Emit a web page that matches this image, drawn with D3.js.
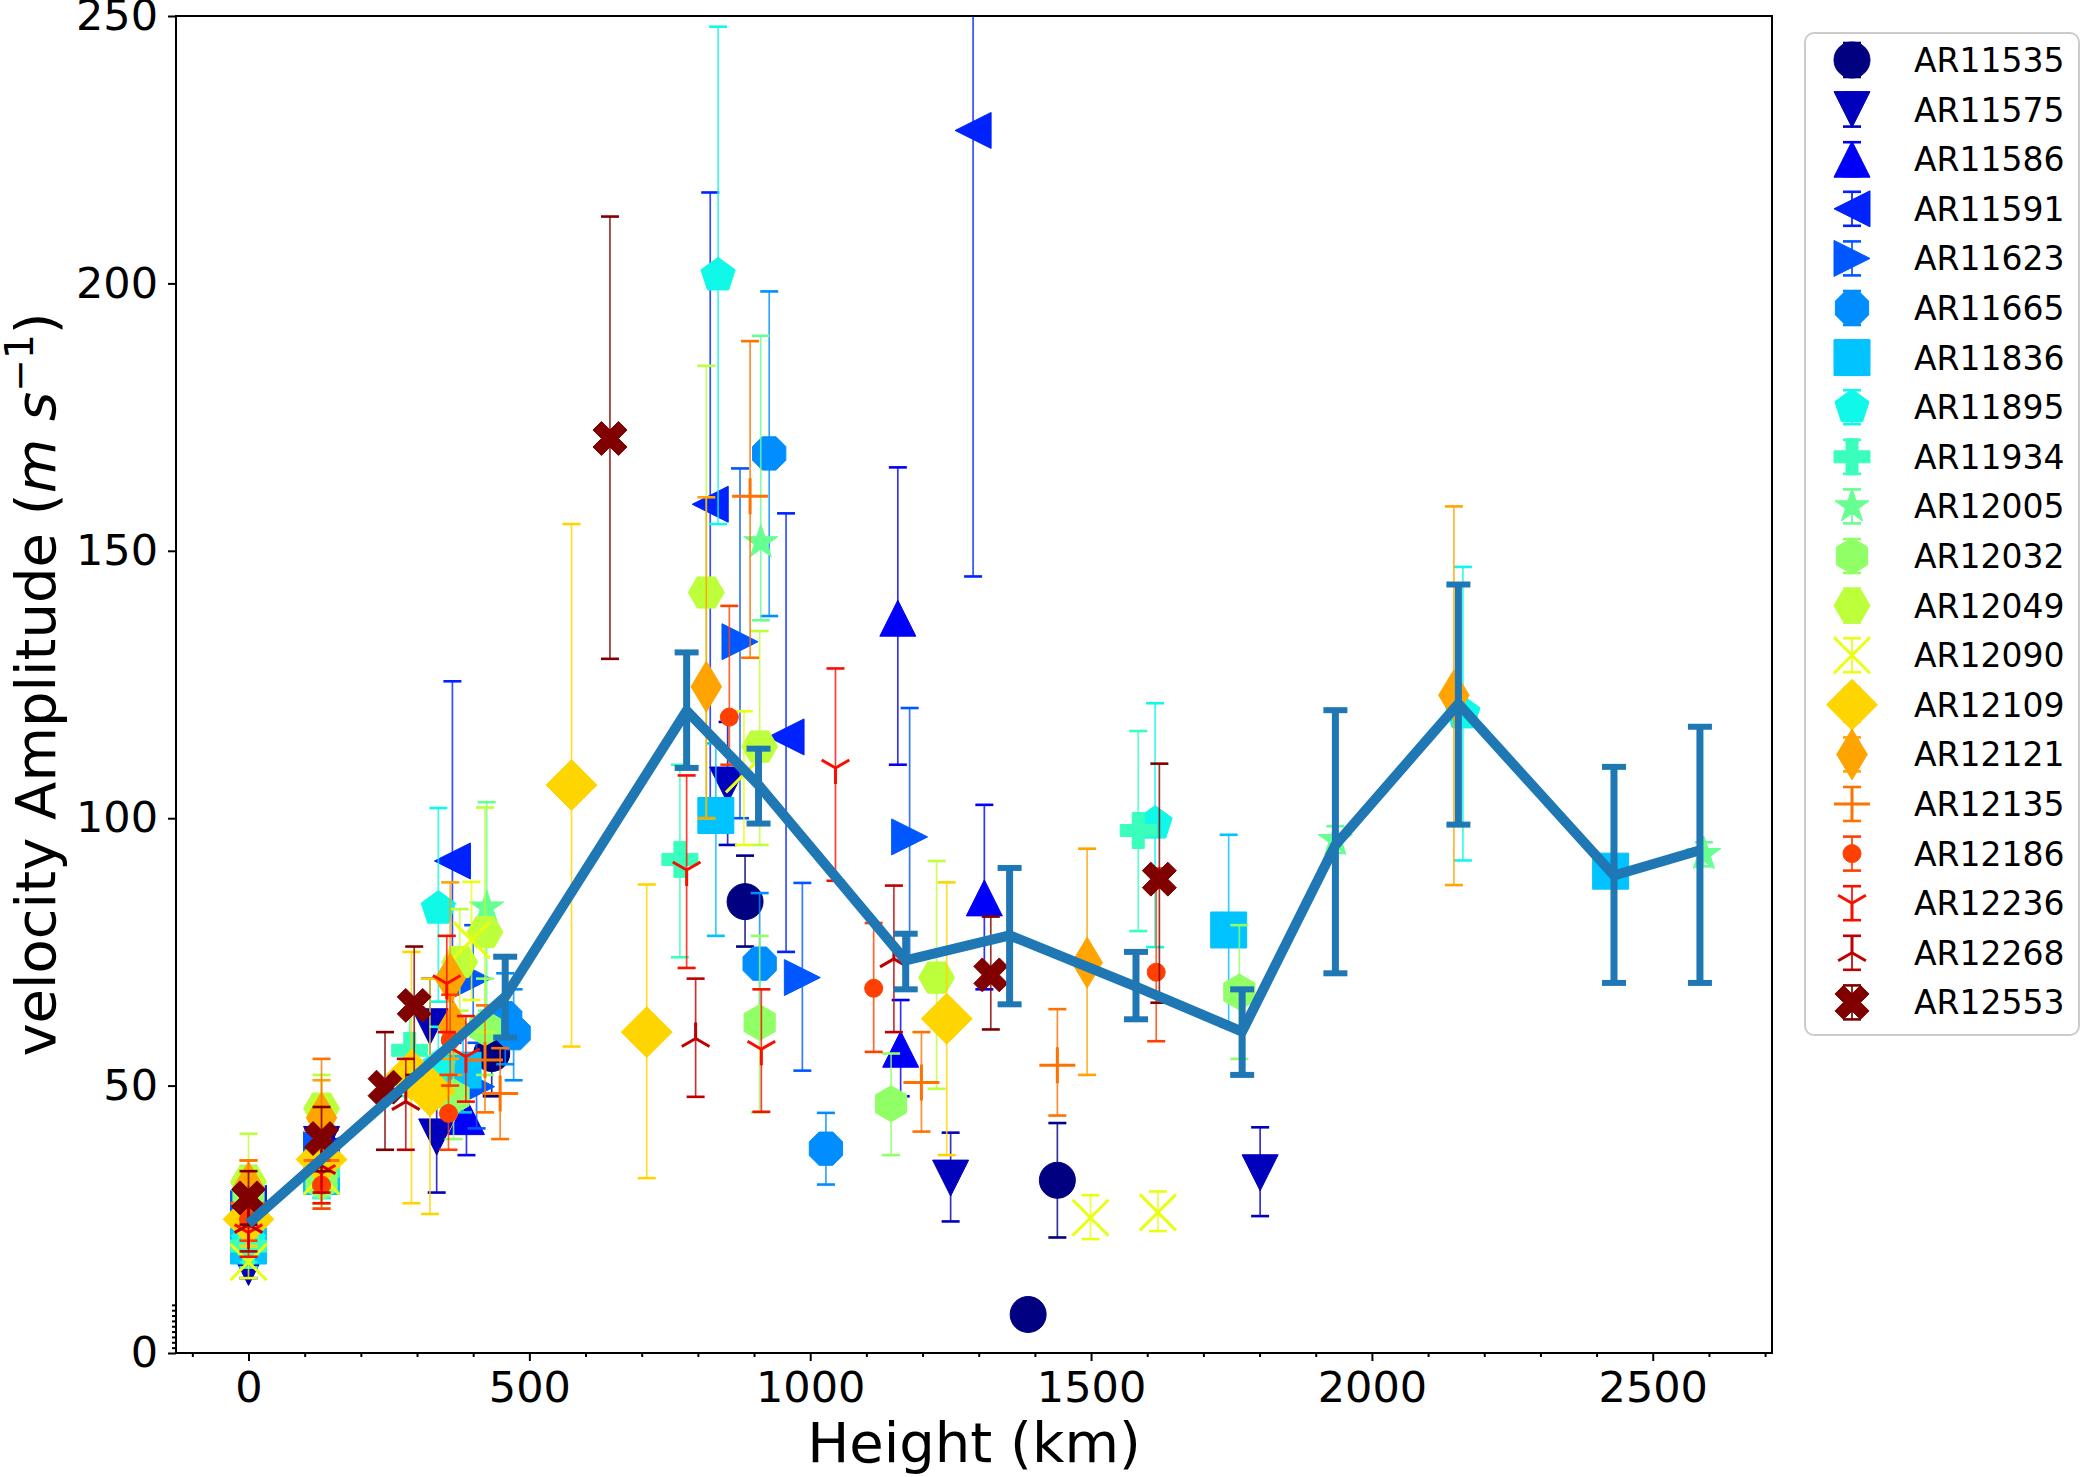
<!DOCTYPE html>
<html>
<head>
<meta charset="utf-8">
<script src="https://cdn.jsdelivr.net/npm/d3@7"></script>
<style>
  body { margin: 0; background: #fff; }
  text { font-family: "DejaVu Sans", sans-serif; }
</style>
</head>
<body>
<svg width="2082" height="1477"></svg>
<script>
// active regions, one matplotlib marker each
const regions = ["AR11535", "AR11575", "AR11586", "AR11591", "AR11623", "AR11665", "AR11836",
  "AR11895", "AR11934", "AR12005", "AR12032", "AR12049", "AR12090", "AR12109", "AR12121",
  "AR12135", "AR12186", "AR12236", "AR12268", "AR12553"];
const markers = ["o", "v", "^", "<", ">", "8", "s", "p", "P", "*", "h", "H", "x", "D", "d", "+", ".", "1", "2", "X"];

// rows: [height km, amplitude, lower, upper]
const ar11535 = [[0, 22, 16, 28], [130, 38, 31, 45], [433, 56, 48, 64], [884, 84.4, 76, 93], [1388, 7.2, 6, 8.5], [1440, 32.3, 21.6, 43]];
const ar11575 = [[0, 16, 14, 18], [130, 39, 34, 46], [323, 61, 52, 70], [335, 40.4, 30, 49], [853, 106.2, 95, 118], [1250, 32.7, 24.6, 41.2], [1801, 33.7, 25.6, 42.2]];
const ar11586 = [[0, 27, 22, 32], [130, 40, 35, 46], [388, 44.2, 37, 52], [1156, 137.4, 110, 165.6], [1161, 56.8, 48, 66], [1310, 85.1, 68, 102.5]];
const ar11591 = [[0, 28, 23, 33], [130, 37, 32, 43], [363, 92, 58, 125.6], [822, 158.7, 100, 217], [957, 115.2, 75, 157], [1290, 228.6, 145.2, 312]];
const ar11623 = [[0, 27, 22, 32], [130, 38, 33, 44], [400, 70, 60, 80], [406, 49.8, 42, 58], [875, 133, 100, 165.4], [986, 70.2, 52.8, 87.9], [1177, 96.5, 74.2, 120.6]];
const ar11665 = [[0, 22, 17, 27], [130, 34, 29, 40], [457, 62.6, 54, 71], [472, 59.8, 51, 68], [910, 72.8, 60, 86], [927, 168.2, 137.8, 198.5], [1028, 38.2, 31.5, 44.9]];
const ar11836 = [[0, 20, 16, 24], [130, 33, 28, 38], [382, 52.9, 45, 61], [832, 100.5, 78, 114], [1745, 79.1, 61, 96.9], [2425, 90.1, 88, 92]];
const ar11895 = [[0, 21, 17, 25], [130, 35, 30, 40], [338, 83.1, 65.7, 101.9], [338, 53.5, 46, 61], [836, 201.5, 155, 248], [1614, 99, 75.9, 121.5], [2162, 119.6, 92.1, 147]];
const ar11934 = [[0, 20, 16, 24], [130, 34, 29, 39], [287, 56.6, 48, 64], [768, 92.3, 74, 110], [1584, 97.7, 78.9, 116.3]];
const ar12005 = [[0, 24, 19, 29], [130, 36, 31, 41], [424, 83.3, 64, 103], [912, 151.6, 137, 190.2], [1935, 95.9, 93.5, 98.5], [2591, 93.3, 91, 95.5]];
const ar12032 = [[0, 30, 25, 35], [130, 32, 27, 37], [365, 47.9, 40, 56], [421, 60.8, 52, 70], [910, 61.8, 45, 78], [1144, 46.6, 37, 56], [1764, 67.5, 55, 80]];
const ar12049 = [[0, 32, 27, 41], [130, 45.7, 40, 52], [376, 73.1, 64, 83], [421, 78.7, 60, 102], [815, 142.2, 100, 184.6], [910, 113.4, 95, 135], [1225, 70.2, 49.4, 92]];
const ar12090 = [[0, 17, 14, 20], [130, 33, 28, 38], [397, 77.2, 66, 88.1], [882, 108.2, 95, 120], [1499, 25.3, 21.3, 29.5], [1619, 26.3, 22.8, 30.2]];
const ar12109 = [[0, 25, 20, 30], [130, 36.2, 31, 42], [290, 52, 28, 75], [323, 49, 26, 70], [575, 106.2, 57.3, 155], [709, 60, 32.7, 87.6], [1243, 62.5, 37, 88]];
const ar12121 = [[0, 31, 26, 36], [130, 44, 38, 51], [359, 70, 55, 88], [365, 61, 52, 70], [815, 124.6, 100, 160], [1493, 73, 52, 94.3], [2146, 123, 87.5, 158.3]];
const ar12135 = [[0, 28, 24, 36], [130, 36, 31, 55], [421, 54.8, 45, 65], [448, 48.5, 40, 57], [893, 160.2, 130, 189.2], [1198, 50.6, 41.4, 60], [1440, 53.8, 44.4, 64.3]];
const ar12186 = [[0, 25, 21, 29], [130, 31.4, 27, 36], [356, 44.8, 38, 52], [359, 58.5, 50, 67], [856, 118.9, 110, 139.7], [1113, 68.2, 56.3, 80.4], [1616, 71.2, 58.3, 90.6]];
const ar12236 = [[0, 22.5, 18, 27], [130, 33.6, 28, 39], [353, 69.1, 60, 78], [387, 55.4, 47, 63], [780, 90.3, 72, 108], [913, 56.8, 45.1, 68], [1045, 109.4, 88.3, 128]];
const ar12268 = [[0, 24, 19, 29], [130, 35, 30, 40], [280, 47, 38, 55], [796, 58.8, 47.9, 70], [1149, 73.7, 60, 87.4]];
const ar12553 = [[0, 29, 24, 34], [130, 40.1, 34, 46], [243, 49.7, 38, 60], [295, 65, 52, 76], [643.5, 171, 129.8, 212.5], [1321.5, 70.7, 60.5, 81.6], [1621.6, 88.6, 65.5, 110.2]];
const regionRows = [ar11535, ar11575, ar11586, ar11591, ar11623, ar11665, ar11836, ar11895, ar11934, ar12005,
  ar12032, ar12049, ar12090, ar12109, ar12121, ar12135, ar12186, ar12236, ar12268, ar12553];

// binned mean with its spread
const meanHeights = [0, 457, 780, 908, 1170, 1355, 1580, 1769, 1935, 2154, 2431, 2584];
const meanValues = [24.2, 66.6, 120.1, 106.2, 73.4, 78.1, 68.5, 60.1, 95.0, 121.4, 89.3, 94.0];
const meanLow = [null, 59, 109.4, 99, 68.0, 65.2, 62.4, 52, 71.0, 98.8, 69.2, 69.2];
const meanHigh = [null, 74.1, 131, 113, 78.4, 90.7, 75.0, 68, 120.2, 143.7, 109.6, 117.1];

const xTicks = [0, 500, 1000, 1500, 2000, 2500];
const xMinor = d3.range(-100, 2701, 100);
const yTicks = [0, 50, 100, 150, 200, 250];
const yMinor = d3.range(1, 10);

// matplotlib "jet"
function jet(t) {
  const seg = pts => {
    for (let i = 1; i < pts.length; i++) {
      if (t <= pts[i][0]) {
        const [x0, y0] = pts[i - 1], [x1, y1] = pts[i];
        return y0 + (y1 - y0) * (t - x0) / (x1 - x0);
      }
    }
    return pts[pts.length - 1][1];
  };
  const r = seg([[0, 0], [0.35, 0], [0.66, 1], [0.89, 1], [1, 0.5]]);
  const g = seg([[0, 0], [0.125, 0], [0.375, 1], [0.64, 1], [0.91, 0], [1, 0]]);
  const b = seg([[0, 0.5], [0.11, 1], [0.34, 1], [0.65, 0], [1, 0]]);
  return d3.rgb(r * 255, g * 255, b * 255).formatHex();
}

const R = 18;
function poly(n, rad, rot) {
  const pts = d3.range(n).map(k => {
    const a = rot + k * 2 * Math.PI / n;
    return [rad * Math.sin(a), -rad * Math.cos(a)];
  });
  return "M" + pts.map(p => p.join(",")).join("L") + "Z";
}
function plusPts(rot) {
  const u = R / 3;
  const raw = [[-1, -3], [1, -3], [1, -1], [3, -1], [3, 1], [1, 1], [1, 3], [-1, 3], [-1, 1], [-3, 1], [-3, -1], [-1, -1]];
  const c = Math.cos(rot), s = Math.sin(rot);
  return "M" + raw.map(([a, b]) => [(a * c - b * s) * u, (a * s + b * c) * u].join(",")).join("L") + "Z";
}
function markerPath(m) {
  const q = R * Math.SQRT2;
  switch (m) {
    case "o": return `M${R},0A${R},${R} 0 1,1 ${-R},0A${R},${R} 0 1,1 ${R},0Z`;
    case ".": return `M9,0A9,9 0 1,1 -9,0A9,9 0 1,1 9,0Z`;
    case "v": return `M0,${R}L${-R},${-R}L${R},${-R}Z`;
    case "^": return `M0,${-R}L${-R},${R}L${R},${R}Z`;
    case "<": return `M${-R},0L${R},${-R}L${R},${R}Z`;
    case ">": return `M${R},0L${-R},${-R}L${-R},${R}Z`;
    case "8": return poly(8, R, Math.PI / 8);
    case "s": return `M${-R},${-R}H${R}V${R}H${-R}Z`;
    case "p": return poly(5, R, 0);
    case "h": return poly(6, R, 0);
    case "H": return poly(6, R, Math.PI / 6);
    case "*": {
      const pts = d3.range(10).map(k => {
        const a = k * Math.PI / 5, rr = k % 2 ? R * 0.381966 : R;
        return [rr * Math.sin(a), -rr * Math.cos(a)];
      });
      return "M" + pts.map(p => p.join(",")).join("L") + "Z";
    }
    case "P": return plusPts(0);
    case "X": return plusPts(Math.PI / 4);
    case "D": return `M0,${-q}L${q},0L0,${q}L${-q},0Z`;
    case "d": return `M0,${-q}L${q * 0.6},0L0,${q}L${-q * 0.6},0Z`;
    case "x": return `M${-R},${-R}L${R},${R}M${-R},${R}L${R},${-R}`;
    case "+": return `M${-R},0H${R}M0,${-R}V${R}`;
    case "1": { const t = 16; return `M0,0V${t}M0,0L${-0.866 * t},${-0.5 * t}M0,0L${0.866 * t},${-0.5 * t}`; }
    case "2": { const t = 16; return `M0,0V${-t}M0,0L${-0.866 * t},${0.5 * t}M0,0L${0.866 * t},${0.5 * t}`; }
  }
}
const unfilled = new Set(["x", "+", "1", "2"]);
function drawMarker(g, m, c, px, py) {
  const open = unfilled.has(m);
  g.append("path")
    .attr("d", markerPath(m))
    .attr("transform", `translate(${px},${py})`)
    .attr("fill", open ? "none" : c)
    .attr("stroke", c)
    .attr("stroke-width", open ? 3 : 1);
}

const svg = d3.select("svg");
const plotLeft = 176, plotRight = 1772, plotTop = 16, plotBottom = 1353;
const x = d3.scaleLinear().domain([-129.1, 2712.3]).range([plotLeft, plotRight]);
const y = d3.scaleLinear().domain([0, 250]).range([plotBottom, plotTop]);

svg.append("clipPath").attr("id", "clip")
  .append("rect").attr("x", plotLeft).attr("y", plotTop)
  .attr("width", plotRight - plotLeft).attr("height", plotBottom - plotTop);
const plot = svg.append("g").attr("clip-path", "url(#clip)");

regionRows.forEach((rows, i) => {
  const c = jet(i / 19);
  const g = plot.append("g");
  rows.forEach(([h, v, lo, hi]) => {
    g.append("line").attr("x1", x(h)).attr("x2", x(h)).attr("y1", y(lo)).attr("y2", y(hi))
      .attr("stroke", c).attr("stroke-width", 1.7).attr("stroke-opacity", 0.8);
    [lo, hi].forEach(e => {
      g.append("line").attr("x1", x(h) - 9).attr("x2", x(h) + 9).attr("y1", y(e)).attr("y2", y(e))
        .attr("stroke", c).attr("stroke-width", 2.6);
    });
  });
  rows.forEach(([h, v]) => drawMarker(g, markers[i], c, x(h), y(v)));
});

// mean curve
const meanColor = "#1f77b4";
const mg = plot.append("g");
meanHeights.forEach((h, k) => {
  if (meanLow[k] == null) return;
  mg.append("line").attr("x1", x(h)).attr("x2", x(h)).attr("y1", y(meanLow[k])).attr("y2", y(meanHigh[k]))
    .attr("stroke", meanColor).attr("stroke-width", 7);
  [meanLow[k], meanHigh[k]].forEach(e => {
    mg.append("line").attr("x1", x(h) - 12).attr("x2", x(h) + 12).attr("y1", y(e)).attr("y2", y(e))
      .attr("stroke", meanColor).attr("stroke-width", 6);
  });
});
mg.append("path")
  .attr("d", d3.line().x(d => x(d[0])).y(d => y(d[1]))(meanHeights.map((h, k) => [h, meanValues[k]])))
  .attr("fill", "none").attr("stroke", meanColor).attr("stroke-width", 10).attr("stroke-linejoin", "round");

// axes
svg.append("g").attr("transform", `translate(0,${plotBottom})`)
  .call(d3.axisBottom(x).tickValues(xTicks).tickSize(8).tickPadding(10).tickFormat(d3.format("d")));
svg.append("g").attr("transform", `translate(0,${plotBottom})`)
  .call(d3.axisBottom(x).tickValues(xMinor.filter(v => v % 500 !== 0)).tickSize(4).tickFormat(""));
svg.append("g").attr("transform", `translate(${plotLeft},0)`)
  .call(d3.axisLeft(y).tickValues(yTicks).tickSize(8).tickPadding(10).tickFormat(d3.format("d")));
svg.append("g").attr("transform", `translate(${plotLeft},0)`)
  .call(d3.axisLeft(y).tickValues(yMinor).tickSize(4).tickFormat(""));
svg.selectAll(".domain").remove();
svg.selectAll(".tick line").attr("stroke", "#000").attr("stroke-width", 2);
svg.selectAll(".tick text").attr("fill", "#000").style("font-size", "43px").style("font-family", "DejaVu Sans");

svg.append("rect").attr("x", plotLeft).attr("y", plotTop)
  .attr("width", plotRight - plotLeft).attr("height", plotBottom - plotTop)
  .attr("fill", "none").attr("stroke", "#000").attr("stroke-width", 2);

svg.append("text").attr("x", (plotLeft + plotRight) / 2).attr("y", 1462).attr("text-anchor", "middle")
  .style("font-size", "56px").text("Height (km)");

const yl = svg.append("text").attr("transform", `translate(55,${(plotTop + plotBottom) / 2}) rotate(-90)`)
  .attr("text-anchor", "middle").style("font-size", "56px");
yl.append("tspan").text("velocity Amplitude (");
yl.append("tspan").style("font-style", "italic").text("m s");
yl.append("tspan").attr("dy", -22).style("font-size", "39px").text("\u22121");
yl.append("tspan").attr("dy", 22).text(")");

// legend
const lg = svg.append("g");
lg.append("rect").attr("x", 1805).attr("y", 33).attr("width", 274).attr("height", 1002).attr("rx", 9)
  .attr("fill", "#fff").attr("fill-opacity", 0.8).attr("stroke", "#cccccc").attr("stroke-width", 2);
regions.forEach((name, i) => {
  const cy = 60 + i * 49.6, cx = 1852, c = jet(i / 19);
  lg.append("line").attr("x1", cx).attr("x2", cx).attr("y1", cy - 17).attr("y2", cy + 17)
    .attr("stroke", c).attr("stroke-width", 1.7);
  [-17, 17].forEach(o => lg.append("line").attr("x1", cx - 9).attr("x2", cx + 9).attr("y1", cy + o).attr("y2", cy + o)
    .attr("stroke", c).attr("stroke-width", 2.6));
  drawMarker(lg, markers[i], c, cx, cy);
  lg.append("text").attr("x", 1914).attr("y", cy + 12).style("font-size", "33px").text(name);
});
</script>
</body>
</html>
